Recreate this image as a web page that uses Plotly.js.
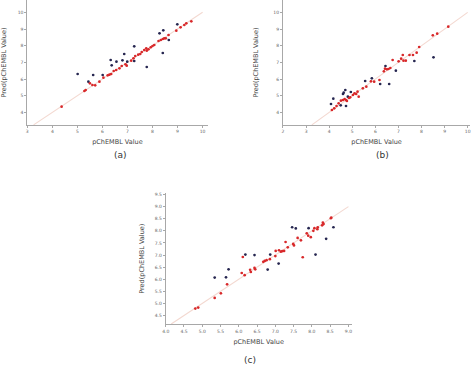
<!DOCTYPE html>
<html>
<head>
<meta charset="utf-8">
<script src="https://cdn.plot.ly/plotly-3.0.1.min.js"></script>
<style>html,body{margin:0;padding:0;background:#fff;}#chart{width:474px;height:365px;}</style>
</head>
<body>
<div id="chart"></div>
<script>
// ---- (a) ----
const aOutX = [5.01, 5.44, 5.63, 6.01, 6.33, 6.37, 6.56, 6.80, 6.87, 6.99, 7.27, 7.27, 7.77, 8.28, 8.43, 8.41, 8.65, 8.99];
const aOutY = [6.30, 5.84, 6.24, 6.24, 7.14, 6.82, 7.04, 7.12, 7.50, 7.04, 7.96, 7.08, 6.72, 8.74, 8.92, 7.56, 8.34, 9.28];
const aFitX = [4.37, 5.28, 5.33, 5.50, 5.60, 5.71, 5.88, 6.04, 6.21, 6.28, 6.35, 6.45, 6.55, 6.68, 6.77, 6.92, 6.97, 7.15, 7.24, 7.31, 7.43, 7.51, 7.57, 7.67, 7.75, 7.77, 7.84, 7.93, 8.00, 8.07, 8.24, 8.33, 8.41, 8.47, 8.53, 8.64, 8.95, 9.12, 9.27, 9.35, 9.55];
const aFitY = [4.34, 5.28, 5.34, 5.74, 5.64, 5.62, 5.84, 6.08, 6.22, 6.26, 6.30, 6.48, 6.54, 6.64, 6.78, 6.88, 6.80, 7.10, 7.24, 7.38, 7.46, 7.50, 7.62, 7.74, 7.84, 7.70, 7.78, 7.90, 7.98, 8.04, 8.28, 8.34, 8.40, 8.44, 8.44, 8.64, 8.90, 9.10, 9.24, 9.34, 9.46];
const aDiag = [3.25, 10];
// ---- (b) ----
const bOutX = [4.08, 4.18, 4.60, 4.70, 4.50, 4.73, 4.63, 4.94, 4.81, 5.56, 5.85, 6.21, 6.60, 6.44, 6.89, 7.69, 8.52];
const bOutY = [4.50, 4.82, 5.10, 5.34, 4.42, 4.38, 5.18, 5.22, 4.94, 5.88, 6.04, 5.70, 5.70, 6.78, 6.50, 7.08, 7.30];
const bFitX = [4.12, 4.22, 4.32, 4.41, 4.51, 4.60, 4.67, 4.73, 4.77, 4.86, 4.91, 5.03, 5.10, 5.17, 5.23, 5.28, 5.46, 5.61, 5.81, 5.95, 6.18, 6.37, 6.42, 6.50, 6.57, 6.65, 6.75, 7.01, 7.12, 7.19, 7.22, 7.32, 7.48, 7.63, 7.79, 7.90, 8.49, 8.68, 9.16];
const bFitY = [4.14, 4.24, 4.38, 4.54, 4.70, 4.74, 4.80, 4.74, 4.68, 4.86, 4.90, 5.04, 5.14, 5.10, 5.24, 4.94, 5.44, 5.54, 5.86, 5.84, 5.94, 6.46, 6.62, 6.58, 6.60, 6.66, 7.14, 7.06, 7.22, 7.44, 7.10, 7.10, 7.44, 7.44, 7.58, 7.92, 8.62, 8.72, 9.14];
const bDiag = [3.25, 10];
// ---- (c) ----
const cOutX = [5.34, 5.65, 5.72, 6.18, 6.43, 6.79, 6.86, 7.09, 7.46, 7.56, 7.91, 8.10, 8.39, 8.59];
const cOutY = [6.07, 6.08, 6.41, 7.02, 7.00, 6.40, 7.02, 6.65, 8.15, 8.10, 8.11, 7.02, 7.67, 8.15];
const cFitX = [4.81, 4.89, 5.34, 5.51, 5.68, 6.08, 6.11, 6.16, 6.31, 6.33, 6.43, 6.45, 6.67, 6.71, 6.76, 6.85, 7.00, 7.01, 7.10, 7.15, 7.19, 7.24, 7.28, 7.34, 7.49, 7.51, 7.61, 7.70, 7.75, 7.86, 7.90, 7.97, 8.04, 8.07, 8.15, 8.16, 8.28, 8.30, 8.32, 8.52, 8.53];
const cFitY = [4.79, 4.83, 5.23, 5.42, 5.79, 6.26, 6.92, 6.17, 6.39, 6.30, 6.47, 6.41, 6.72, 6.76, 6.79, 6.83, 6.96, 7.17, 7.20, 7.14, 7.16, 7.17, 7.54, 7.32, 7.46, 7.40, 7.71, 7.61, 6.91, 7.90, 7.80, 7.74, 8.00, 8.11, 8.07, 8.15, 8.23, 8.34, 8.28, 8.52, 8.55];
const cDiag = [4.15, 9];

const xTitle = 'pChEMBL Value';
const yTitle = 'Pred(pChEMBL Value)';
const captions = ['(a)', '(b)', '(c)'];

const outColor = '#262650';
const fitColor = '#d8282a';
const diagColor = '#f3d8d0';
const mk = (c) => ({color: c, size: 2.7});

function set(xs, ys, diag, xa, ya) {
  return [
    {type: 'scatter', mode: 'lines', x: diag, y: diag, xaxis: xa, yaxis: ya, line: {color: diagColor, width: 1.1}, hoverinfo: 'skip'},
    {type: 'scatter', mode: 'markers', x: xs[0], y: ys[0], xaxis: xa, yaxis: ya, marker: mk(outColor)},
    {type: 'scatter', mode: 'markers', x: xs[1], y: ys[1], xaxis: xa, yaxis: ya, marker: mk(fitColor)}
  ];
}

const data = [
  ...set([aOutX, aFitX], [aOutY, aFitY], aDiag, 'x', 'y'),
  ...set([bOutX, bFitX], [bOutY, bFitY], bDiag, 'x2', 'y2'),
  ...set([cOutX, cFitX], [cOutY, cFitY], cDiag, 'x3', 'y3')
];

const tickFont = {family: 'DejaVu Sans', size: 4.5, color: '#666'};
const titleFont = {family: 'DejaVu Sans', size: 6.5, color: '#444'};
function ax(domain, range, anchor, dtick, fmt) {
  return {
    domain: domain, range: range, anchor: anchor, dtick: dtick, tickformat: fmt,
    showgrid: false, zeroline: false, showline: true, linecolor: '#a8a8a8', linewidth: 1,
    ticks: 'outside', ticklen: 2, tickcolor: '#a8a8a8', tickfont: tickFont, fixedrange: true
  };
}

const layout = {
  width: 474, height: 365,
  margin: {l: 0, r: 0, t: 0, b: 0},
  paper_bgcolor: '#fff', plot_bgcolor: '#fff',
  showlegend: false,
  xaxis: Object.assign(ax([0.0576, 0.438], [3, 10.2], 'y', 1, 'd'), {title: {text: xTitle, font: titleFont, standoff: 6}}),
  yaxis: Object.assign(ax([0.6575, 1.0], [3.24, 10.74], 'x', 1, 'd'), {title: {text: yTitle, font: titleFont, standoff: 13}}),
  xaxis2: Object.assign(ax([0.597, 0.992], [2, 10.11], 'y2', 1, 'd'), {title: {text: xTitle, font: titleFont, standoff: 6}}),
  yaxis2: Object.assign(ax([0.6575, 1.0], [3.24, 10.74], 'x2', 1, 'd'), {title: {text: yTitle, font: titleFont, standoff: 14}}),
  xaxis3: Object.assign(ax([0.3496, 0.742], [4.0, 9.09], 'y3', 0.5, '.1f'), {title: {text: xTitle, font: titleFont, standoff: 6}}),
  yaxis3: Object.assign(ax([0.1115, 0.471], [4.14, 9.56], 'x3', 0.5, '.1f'), {title: {text: yTitle, font: titleFont, standoff: 9}}),
  annotations: [
    {text: captions[0], x: 120, y: 155, xref: 'paper', yref: 'paper', showarrow: false, font: {family: 'DejaVu Sans', size: 9, color: '#333'}},
    {text: captions[1], x: 382, y: 155, xref: 'paper', yref: 'paper', showarrow: false, font: {family: 'DejaVu Sans', size: 9, color: '#333'}},
    {text: captions[2], x: 250, y: 360, xref: 'paper', yref: 'paper', showarrow: false, font: {family: 'DejaVu Sans', size: 9, color: '#333'}}
  ].map(a => Object.assign(a, {x: a.x / 474, y: 1 - a.y / 365, xanchor: 'center', yanchor: 'middle'}))
};

Plotly.newPlot('chart', data, layout, {staticPlot: true, displayModeBar: false});
</script>
</body>
</html>
